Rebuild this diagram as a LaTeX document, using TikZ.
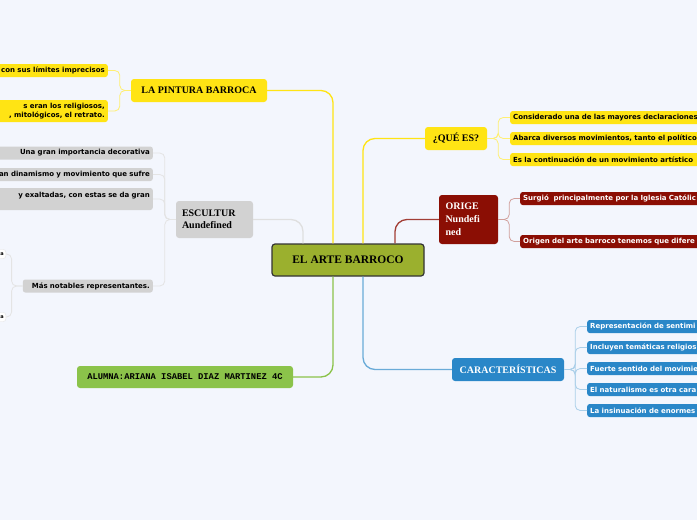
\documentclass[tikz,border=0pt]{standalone}
\usepackage{fontspec}
\setmainfont{Liberation Serif}
\newfontfamily\leaffont{DejaVu Sans}
\newfontfamily\monof{Liberation Mono}
\begin{document}
\begin{tikzpicture}[x=1pt,y=-1pt,
  main/.style={rounded corners=3pt,inner sep=0pt,font=\bfseries\fontsize{10}{12}\selectfont,align=left},
  leaf/.style={rounded corners=2.5pt,inner sep=0pt,minimum height=13pt,font=\leaffont\bfseries\fontsize{7}{9}\selectfont},
  cn/.style={line width=1.3pt,rounded corners=12pt},
  br/.style={line width=0.8pt,rounded corners=5pt}]
\definecolor{bg}{HTML}{F3F6FD}
\definecolor{yel}{HTML}{FFE414}
\definecolor{gry}{HTML}{D2D2D2}
\definecolor{grn}{HTML}{8BC34A}
\definecolor{olv}{HTML}{9BB02E}
\definecolor{red}{HTML}{8B0E04}
\definecolor{blu}{HTML}{2A87C8}
\fill[bg] (0,0) rectangle (697,520);
\useasboundingbox (0,0) rectangle (697,520);
\clip (0,0) rectangle (697,520);
% central
\node[main,fill=olv,draw=black!80,line width=1.2pt,minimum width=152pt,minimum height=32pt,font=\bfseries\fontsize{11.5}{13}\selectfont] (c) at (348,260) {EL ARTE BARROCO};
% main branches
\node[main,fill=yel,minimum width=136pt,minimum height=23pt] (pin) at (199,90.5) {LA PINTURA BARROCA};
\node[main,fill=gry,minimum width=77pt,minimum height=37pt,text width=65pt] (esc) at (214.5,219.5) {ESCULTUR\\Aundefined};
\node[rounded corners=3pt,fill=grn,minimum width=216pt,minimum height=22pt,inner sep=0pt,font=\monof\bfseries\fontsize{8.8}{10}\selectfont] (alu) at (185,377) {ALUMNA:ARIANA ISABEL DIAZ MARTINEZ 4C};
\node[main,fill=yel,minimum width=62pt,minimum height=23pt] (que) at (456,138.5) {¿QUÉ ES?};
\node[main,fill=red,text=white,minimum width=59pt,minimum height=49pt,text width=46pt,font=\bfseries\fontsize{10}{13}\selectfont] (ori) at (468.5,219.5) {ORIGE\\Nundefi\\ned};
\node[main,fill=blu,text=white,minimum width=112pt,minimum height=23pt] (car) at (508,369.5) {CARACTERÍSTICAS};
% main connectors
\draw[cn,yel] ([xshift=-15pt]c.north) |- (pin.east);
\draw[cn,gry!70] ([xshift=-45pt]c.north) |- (esc.east);
\draw[cn,grn] ([xshift=-15pt]c.south) |- (alu.east);
\draw[cn,yel] ([xshift=15pt]c.north) |- (que.west);
\draw[cn,red!80] ([xshift=47pt]c.north) |- (ori.west);
\draw[cn,blu!70] ([xshift=15pt]c.south) |- (car.west);
% pintura leaves
\node[leaf,fill=yel,anchor=east,minimum width=160pt,text width=154pt,align=right] (p1) at (108,70.5) {con sus límites imprecisos};
\node[leaf,fill=yel,anchor=east,minimum width=160pt,minimum height=22pt,text width=154pt,align=right] (p2) at (108,111) {s eran los religiosos,\hspace{26pt}\\, mitológicos, el retrato.};
\foreach \l in {p1,p2} \draw[br,yel!60] (pin.west) -- ++(-11,0) |- (\l.east);
% escultura leaves
\node[leaf,fill=gry,anchor=east,minimum width=160pt,text width=154pt,align=right] (e1) at (153,153) {Una gran importancia decorativa};
\node[leaf,fill=gry,anchor=east,minimum width=170pt,text width=164pt,align=right] (e2) at (153,174.5) {an dinamismo y movimiento que sufre};
\node[leaf,fill=gry,anchor=east,minimum width=170pt,minimum height=22pt,text width=164pt,align=right] (e3) at (153,199) {y exaltadas, con estas se da gran\hspace{24pt}\\ \mbox{}};
\node[leaf,fill=gry,anchor=east,minimum width=130pt,text width=124pt,align=right] (e4) at (153,286) {Más notables representantes.};
\foreach \l in {e1,e2,e3,e4} \draw[br,gry!60] (esc.west) -- ++(-11,0) |- (\l.east);
\node[leaf,fill=white,draw=gry!60,anchor=east,minimum width=40pt,minimum height=9pt,text width=36pt,align=right,font=\leaffont\bfseries\fontsize{5}{6}\selectfont] (r1) at (6,254) {a};
\node[leaf,fill=white,draw=gry!60,anchor=east,minimum width=40pt,minimum height=9pt,text width=36pt,align=right,font=\leaffont\bfseries\fontsize{5}{6}\selectfont] (r2) at (6,317) {a};
\foreach \l in {r1,r2} \draw[br,gry!60] (e4.west) -- ++(-11,0) |- (\l.east);
% que es leaves
\node[leaf,fill=yel,anchor=west,minimum width=220pt,text width=214pt,align=left] (q1) at (510,117.5) {Considerado una de las mayores declaraciones};
\node[leaf,fill=yel,anchor=west,minimum width=220pt,text width=214pt,align=left] (q2) at (510,138.5) {Abarca diversos movimientos, tanto el político};
\node[leaf,fill=yel,anchor=west,minimum width=220pt,text width=214pt,align=left] (q3) at (510,159.5) {Es la continuación de un movimiento artístico};
\foreach \l in {q1,q2,q3} \draw[br,yel!60] (que.east) -- ++(11,0) |- (\l.west);
% origen leaves
\node[leaf,fill=red,text=white,anchor=west,minimum width=220pt,text width=214pt,align=left] (o1) at (520,198.5) {Surgió\ \ principalmente por la Iglesia Católic};
\node[leaf,fill=red,text=white,anchor=west,minimum width=220pt,text width=214pt,align=left] (o2) at (520,241.5) {Origen del arte barroco tenemos que difere};
\foreach \l in {o1,o2} \draw[br,red!40] (ori.east) -- ++(11,0) |- (\l.west);
% caracteristicas leaves
\node[leaf,fill=blu,text=white,anchor=west,minimum width=150pt,text width=144pt,align=left] (k1) at (587,326.5) {Representación de sentimi};
\node[leaf,fill=blu,text=white,anchor=west,minimum width=150pt,text width=144pt,align=left] (k2) at (587,347.5) {Incluyen temáticas religios};
\node[leaf,fill=blu,text=white,anchor=west,minimum width=150pt,text width=144pt,align=left] (k3) at (587,368.5) {Fuerte sentido del movimie};
\node[leaf,fill=blu,text=white,anchor=west,minimum width=150pt,text width=144pt,align=left] (k4) at (587,389.5) {El naturalismo es otra cara};
\node[leaf,fill=blu,text=white,anchor=west,minimum width=150pt,text width=144pt,align=left] (k5) at (587,410.5) {La insinuación de enormes};
\foreach \l in {k1,k2,k3,k4,k5} \draw[br,blu!40] (car.east) -- ++(11,0) |- (\l.west);
\end{tikzpicture}
\end{document}
